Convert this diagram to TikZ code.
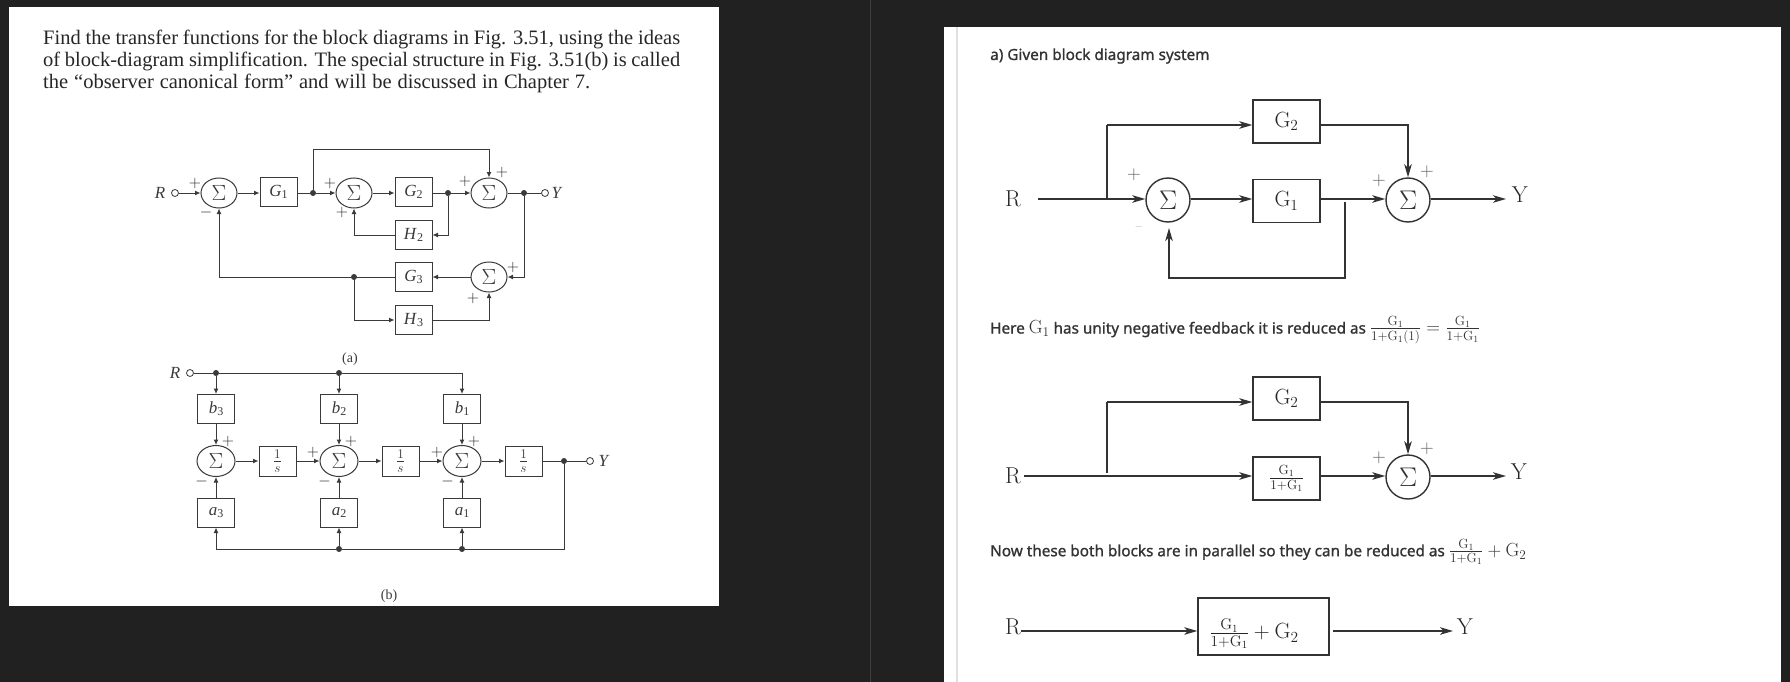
\RequirePackage{fix-cm}
\documentclass[tikz,border=0pt]{standalone}
\usepackage{amsmath,amssymb}
\usepackage[no-math]{fontspec}
\setmainfont{Liberation Serif}
\newfontfamily\notefont[FakeBold=1.1]{Noto Sans}
\usepackage{tikz}
\usetikzlibrary{arrows.meta,shapes.geometric}
\definecolor{pagedark}{HTML}{212121}
\definecolor{inkbook}{HTML}{3A3A3A}
\definecolor{inksolved}{HTML}{333333}
\newcommand{\rmG}[1]{\mathrm{G}_{#1}}
\newcommand{\bookvar}[2]{\textit{#1}\raisebox{-0.25ex}{\fontsize{12}{12}\selectfont #2}}
\tikzset{
  bookblock/.style={draw=inkbook,line width=1pt,minimum width=37pt,minimum height=29pt,inner sep=0pt,font=\fontsize{17}{19}\selectfont,text=inkbook},
  booksum/.style={draw=inkbook,line width=1pt,ellipse,minimum width=36pt,minimum height=30pt,inner sep=0pt,font=\fontsize{22}{24}\selectfont,text=inkbook},
  bookdot/.style={circle,fill=inkbook,minimum size=6pt,inner sep=0pt},
  bookport/.style={circle,draw=inkbook,line width=.8pt,minimum size=7pt,inner sep=0pt},
  booktext/.style={font=\fontsize{17}{19}\selectfont,text=inkbook,inner sep=0pt},
  bookline/.style={draw=inkbook,line width=1pt},
  bookarrow/.style={bookline,-{Latex[length=5.5pt,width=5pt]}},
  booksign/.style={font=\fontsize{16}{16}\selectfont,text=black!85,inner sep=0pt},
  solvedblock/.style={draw=inksolved,line width=1.4pt,minimum width=67pt,minimum height=43pt,inner sep=0pt,font=\fontsize{22}{24}\selectfont,text=black!85},
  solvedsum/.style={draw=inksolved,line width=1.4pt,circle,minimum size=44pt,inner sep=0pt,font=\fontsize{27}{29}\selectfont,text=black!80},
  solvedline/.style={draw=inksolved,line width=1.4pt},
  solvedarrow/.style={solvedline,-{Stealth[length=13pt,width=7.5pt,inset=3.5pt]}},
  solvedsign/.style={font=\fontsize{19}{19}\selectfont,text=inksolved!80,inner sep=0pt},
  solvedlabel/.style={font=\fontsize{23}{25}\selectfont,text=black!85,inner sep=0pt},
  solvednote/.style={anchor=west,inner sep=0pt,text=inksolved,font=\fontsize{15.3}{18}\selectfont}
}
\begin{document}
\begin{tikzpicture}[x=1pt,y=-1pt]
  \useasboundingbox (0,0) rectangle (1790,682);
  \fill[pagedark] (0,0) rectangle (1790,682);
  \draw[color=black!75!white,line width=1pt] (870.5,0) -- (870.5,682);
  \fill[white] (9,7) rectangle (719,606);
  \fill[white] (944,27) rectangle (1781,682);
  \draw[black!12,line width=1.2pt] (957,27) -- (957,682);

  \node[anchor=north west,inner sep=0pt,text width=637pt,align=justify,font=\fontsize{20.5}{22}\selectfont,text=black!85] (prompt) at (43,30)
    {Find the transfer functions for the block diagrams in Fig. 3.51, using the ideas\linebreak of block-diagram simplification. The special structure in Fig. 3.51(b) is called\linebreak \makebox[547pt][s]{the ``observer canonical form'' and will be discussed in Chapter 7.}};

  \node[booktext] (ra) at (160,193) {\textit{R}};
  \node[bookport] (rpa) at (175,193) {};
  \node[booksum] (s1a) at (219,193) {$\Sigma$};
  \node[bookblock] (g1a) at (278.5,192) {\bookvar{G}{1}};
  \node[bookdot] (j1a) at (313,193) {};
  \node[booksum] (s2a) at (354,193) {$\Sigma$};
  \node[bookblock] (g2a) at (413.5,192) {\bookvar{G}{2}};
  \node[bookdot] (j2a) at (448,193) {};
  \node[booksum] (s3a) at (489,193) {$\Sigma$};
  \node[bookdot] (j3a) at (524,193) {};
  \node[bookport] (ypa) at (545,193) {};
  \node[booktext] (ya) at (557,193) {\textit{Y}};
  \node[bookblock] (h2a) at (413.5,235) {\bookvar{H}{2}};
  \node[bookblock] (g3a) at (413.5,277) {\bookvar{G}{3}};
  \node[booksum] (s4a) at (489,277) {$\Sigma$};
  \node[bookdot] (j4a) at (354,277) {};
  \node[bookblock] (h3a) at (413.5,320) {\bookvar{H}{3}};
  \draw[bookarrow] (rpa) -- (s1a);
  \draw[bookarrow] (s1a) -- (g1a.west |- s1a);
  \draw[bookline] (g1a.east |- j1a) -- (j1a);
  \draw[bookarrow] (j1a) -- (s2a);
  \draw[bookarrow] (s2a) -- (g2a.west |- s2a);
  \draw[bookline] (g2a.east |- j2a) -- (j2a);
  \draw[bookarrow] (j2a) -- (s3a);
  \draw[bookline] (s3a) -- (j3a);
  \draw[bookline] (j3a) -- (ypa);
  \draw[bookarrow] (j1a) -- (313,149) -| (s3a);
  \draw[bookarrow] (j2a) |- (h2a);
  \draw[bookarrow] (h2a) -| (s2a);
  \draw[bookarrow] (j3a) |- (s4a);
  \draw[bookarrow] (s4a) -- (g3a);
  \draw[bookline] (g3a) -- (j4a);
  \draw[bookarrow] (j4a) -| (s1a);
  \draw[bookarrow] (j4a) |- (h3a);
  \draw[bookarrow] (h3a) -| (s4a);
  \node[booksign] (p1a) at (195,183) {$+$};
  \node[booksign] (m1a) at (206,212) {$-$};
  \node[booksign] (p2a) at (330,183) {$+$};
  \node[booksign] (p3a) at (342,212) {$+$};
  \node[booksign] (p4a) at (465,181) {$+$};
  \node[booksign] (p5a) at (502,172) {$+$};
  \node[booksign] (p6a) at (513,267) {$+$};
  \node[booksign] (p7a) at (473,298) {$+$};
  \node[booktext,font=\fontsize{14}{16}\selectfont] (capa) at (350,359) {(a)};

  \node[booktext] (rb) at (175,373) {\textit{R}};
  \node[bookport] (rpb) at (190,373) {};
  \node[bookdot] (t3) at (216,373) {};
  \node[bookdot] (t2) at (339,373) {};
  \node[bookdot] (f2) at (339,549) {};
  \node[bookdot] (f1) at (462,549) {};
  \coordinate (f3) at (216,549);
  \coordinate (t1) at (462,373);
  \foreach \i/\x in {3/216,2/339,1/462} {
    \node[bookblock] (bb\i) at (\x,409) {\bookvar{b}{\i}};
    \node[booksum,minimum width=38pt,minimum height=31pt] (sb\i) at (\x,461) {$\Sigma$};
    \node[bookblock,minimum height=30pt,font=\fontsize{19}{21}\selectfont] (ib\i) at (\x+61.5,461) {$\frac{1}{s}$};
    \node[bookblock] (ab\i) at (\x,512.5) {\bookvar{a}{\i}};
    \draw[bookarrow] (t\i) -- (bb\i);
    \draw[bookarrow] (bb\i) -- (sb\i);
    \draw[bookarrow] (ab\i) -- (sb\i);
    \draw[bookarrow] (f\i) -- (ab\i);
    \draw[bookarrow] (sb\i) -- (ib\i);
    \node[booksign] (pb\i) at (\x+12,441) {$+$};
    \node[booksign] (mb\i) at (\x-14.5,481) {$-$};
  }
  \draw[bookline] (rpb) -- (t3);
  \draw[bookline] (t3) -- (t2);
  \draw[bookline] (t2) -- (t1);
  \draw[bookarrow] (ib3) -- (sb2);
  \draw[bookarrow] (ib2) -- (sb1);
  \node[booksign] (qb2) at (313,452) {$+$};
  \node[booksign] (qb1) at (437,452) {$+$};
  \node[bookdot] (jb) at (564,461) {};
  \node[bookport] (ypb) at (590,461) {};
  \node[booktext] (yb) at (604,461) {\textit{Y}};
  \draw[bookline] (ib1) -- (jb);
  \draw[bookline] (jb) -- (ypb);
  \draw[bookline] (jb) |- (f1);
  \draw[bookline] (f1) -- (f2);
  \draw[bookline] (f2) -- (f3);
  \node[booktext,font=\fontsize{14}{16}\selectfont] (capb) at (389,596) {(b)};

  \node[solvednote] (title) at (990,56) {\notefont a) Given block diagram system};
  \node[solvedlabel] (r1) at (1013,199) {$\mathrm{R}$};
  \coordinate (in1) at (1038,199);
  \coordinate (up1) at (1107,199);
  \node[solvedsum] (s1) at (1168,200) {$\Sigma$};
  \node[solvedblock] (g1) at (1286.5,201) {$\rmG{1}$};
  \node[solvedblock] (g2) at (1286.5,121.5) {$\rmG{2}$};
  \node[solvedsum] (s2) at (1408,200) {$\Sigma$};
  \node[solvedlabel] (y1) at (1520,195) {$\mathrm{Y}$};
  \coordinate (out1) at (1506,199);
  \coordinate (top1) at (1107,125);
  \coordinate (tap1) at (1345,202);
  \coordinate (bot1) at (1345,278);
  \draw[solvedarrow] (in1) -- (in1 -| s1.west);
  \draw[solvedline] (up1) -- (top1);
  \draw[solvedarrow] (top1) -- (top1 -| g2.west);
  \draw[solvedarrow] (s1.east |- in1) -- (g1.west |- in1);
  \draw[solvedarrow] (g1.east |- in1) -- (s2.west |- in1);
  \draw[solvedarrow] (g2.east |- top1) -| (s2.north);
  \draw[solvedarrow] (s2.east |- in1) -- (out1);
  \draw[solvedarrow] (tap1) -- (bot1) -| (1169,228);
  \node[solvedsign] (p1) at (1134,175) {$+$};
  \node[solvedsign,font=\fontsize{11}{11}\selectfont,text=black!30] (m1) at (1139,227) {$-$};
  \node[solvedsign] (p2) at (1379,181) {$+$};
  \node[solvedsign] (p3) at (1427,172) {$+$};

  \node[solvednote] (note1) at (990,330) {\notefont Here {\fontsize{19}{21}\selectfont $\rmG{1}$} has unity negative feedback it is reduced as {\fontsize{19}{21}\selectfont $\frac{\rmG{1}}{1+\rmG{1}(1)}=\frac{\rmG{1}}{1+\rmG{1}}$}};

  \node[solvedlabel] (r2) at (1013,476) {$\mathrm{R}$};
  \coordinate (in2) at (1024,476);
  \coordinate (up2) at (1107,473);
  \coordinate (top2) at (1107,402);
  \node[solvedblock] (g3) at (1286.5,398.5) {$\rmG{2}$};
  \node[solvedblock] (g4) at (1286.5,478.5) {\fontsize{19}{21}\selectfont$\frac{\rmG{1}}{1+\rmG{1}}$};
  \node[solvedsum] (s3) at (1408,477) {$\Sigma$};
  \node[solvedlabel] (y2) at (1519,472) {$\mathrm{Y}$};
  \coordinate (out2) at (1506,476);
  \draw[solvedarrow] (in2) -- (in2 -| g4.west);
  \draw[solvedline] (up2) -- (top2);
  \draw[solvedarrow] (top2) -- (top2 -| g3.west);
  \draw[solvedarrow] (g4.east |- in2) -- (s3.west |- in2);
  \draw[solvedarrow] (g3.east |- top2) -| (s3.north);
  \draw[solvedarrow] (s3.east |- in2) -- (out2);
  \node[solvedsign] (p4) at (1379,458) {$+$};
  \node[solvedsign] (p5) at (1427,449) {$+$};

  \node[solvednote] (note2) at (990,552) {\notefont Now these both blocks are in parallel so they can be reduced as {\fontsize{19}{21}\selectfont $\frac{\rmG{1}}{1+\rmG{1}}+\rmG{2}$}};

  \node[solvedlabel] (r3) at (1013,627) {$\mathrm{R}$};
  \coordinate (in3) at (1021,631);
  \node[solvedblock,minimum width=131pt,minimum height=57pt] (g5) at (1263.5,626.5) {};
  \node[solvedlabel,font=\fontsize{22}{24}\selectfont] (g5t) at (1254,634) {$\frac{\rmG{1}}{1+\rmG{1}}+\rmG{2}$};
  \node[solvedlabel] (y3) at (1465,627) {$\mathrm{Y}$};
  \coordinate (out3) at (1453,631);
  \coordinate (gap3) at (1333,631);
  \draw[solvedarrow] (in3) -- (in3 -| g5.west);
  \draw[solvedarrow] (gap3) -- (out3);
\end{tikzpicture}
\end{document}
